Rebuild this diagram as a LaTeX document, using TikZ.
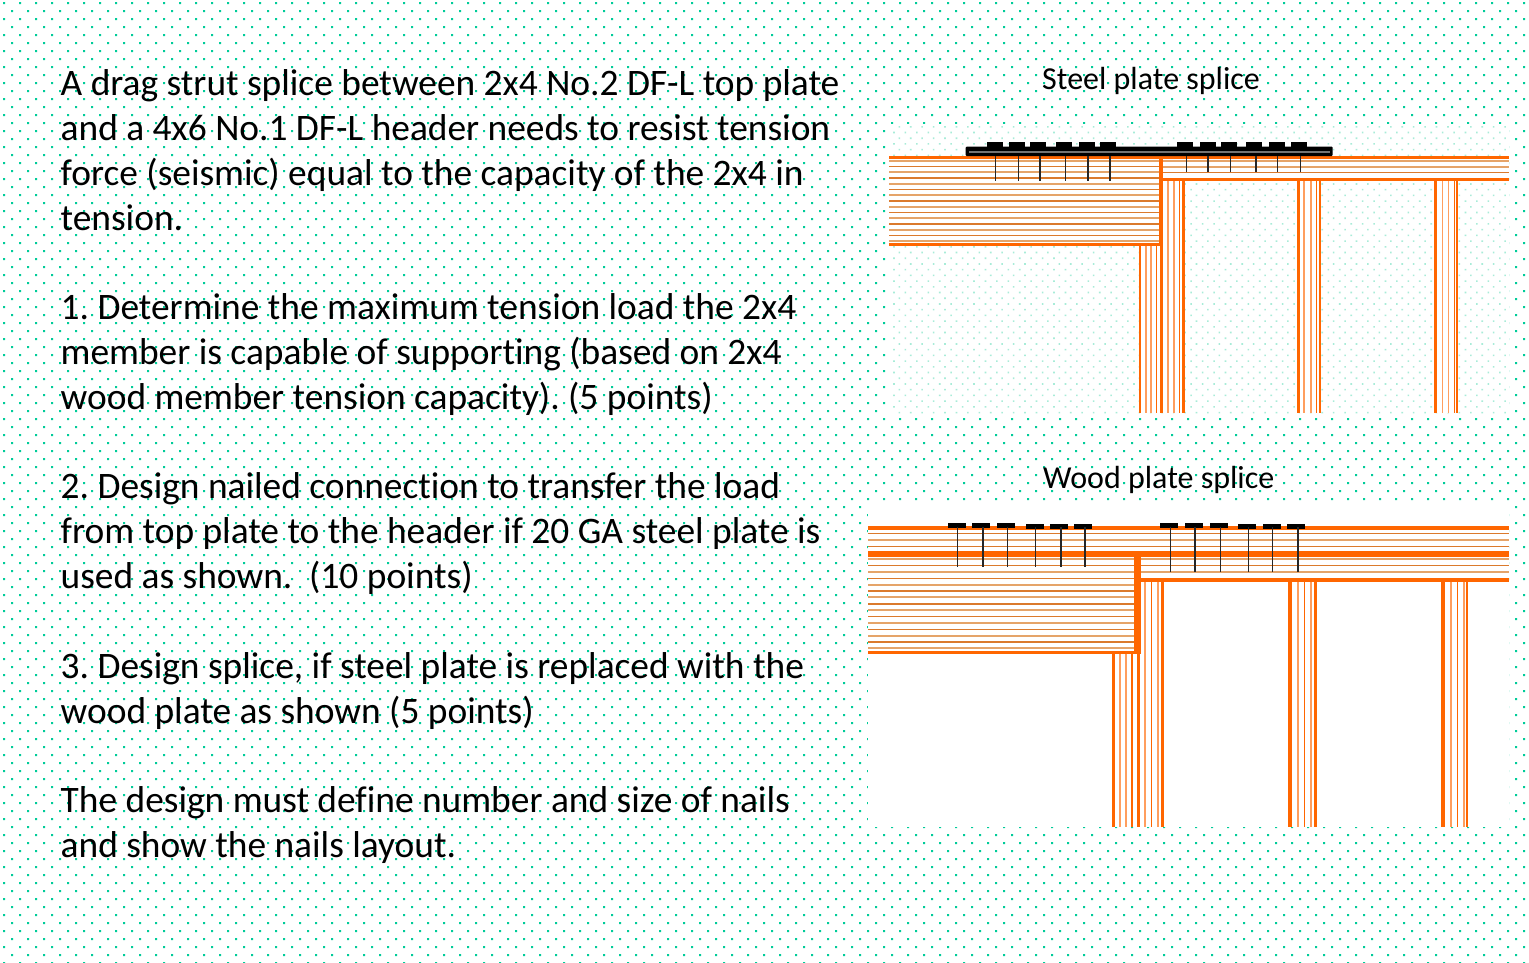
\documentclass[tikz,border=0pt]{standalone}
\usepackage{fontspec}
\setmainfont{Carlito}[Ligatures=NoCommon]
\frenchspacing
\definecolor{dotgreen}{HTML}{00CC99}
\definecolor{dotfaint}{HTML}{A8ECD8}
\definecolor{woodorange}{HTML}{FF6600}
\definecolor{grainlight}{HTML}{E5A469}
\definecolor{graindark}{HTML}{DB7A2C}
\definecolor{studlight}{HTML}{FF9E5E}
\begin{document}
\begin{tikzpicture}[
  x=1pt, y=-1pt,
  txt/.style={anchor=north west, inner sep=0pt, align=left, font=\fontsize{37.4}{44.9}\selectfont, execute at begin node=\strut},
  ttl/.style={anchor=base west, inner sep=0pt, font=\fontsize{32}{38}\selectfont},
  bgdot/.style={fill=dotgreen},
  fadedot/.style={fill=dotfaint},
  grain/.style={draw=grainlight, line width=2pt},
  graind/.style={draw=graindark, line width=1.3pt},
  nailhead/.style={fill=black},
  shank/.style={draw=black!85, line width=1.3pt}
  ]
\useasboundingbox (0,0) rectangle (1529,962);
\fill[white] (0,0) rectangle (1529,962);

% background dots
\foreach \yy in {2,18,...,962}
  \fill[bgdot] foreach \xx in {3,19,...,1525} {(\xx,\yy) rectangle +(2,2)};
\foreach \yy in {10,26,...,962}
  \fill[bgdot] foreach \xx in {11,27,...,1525} {(\xx,\yy) rectangle +(2,2)};

% text
\node[txt] (para1) at (60.5,69.2) {A drag strut splice between 2x4 No.2 DF-L top plate\\and a 4x6 No.1 DF-L header needs to resist tension\\force (seismic) equal to the capacity of the 2x4 in\\tension.};
\node[txt] (para2) at (60.5,293.2) {1. Determine the maximum tension load the 2x4\\member is capable of supporting (based on 2x4\\wood member tension capacity). (5 points)};
\node[txt] (para3) at (60.5,472.2) {2. Design nailed connection to transfer the load\\from top plate to the header if 20 GA steel plate is\\used as shown.~~(10 points)};
\node[txt] (para4) at (60.5,652.2) {3. Design splice, if steel plate is replaced with the\\wood plate as shown (5 points)};
\node[txt] (para5) at (60.5,786.2) {The design must define number and size of nails\\and show the nails layout.};

% steel plate splice
\fill[white] (889,124) rectangle (1509,413);
\foreach \yy in {126,137.43,...,413}
  \fill[fadedot] foreach \xx in {898.5,909.93,...,1508} {(\xx,\yy) rectangle +(1.6,1.6)};
\foreach \yy in {131.7,143.13,...,413}
  \fill[fadedot] foreach \xx in {893.2,904.63,...,1508} {(\xx,\yy) rectangle +(1.6,1.6)};
\node[ttl] (title1) at (1042,89) {Steel plate splice};

\fill[white] (889,156) rectangle (1159,246);
\fill[white] (1159,156) rectangle (1509,181);
\foreach \xa/\xb in {1139/1185,1297/1321,1434/1458}
  \fill[white] (\xa,181) rectangle (\xb,413);

% header and plate grain
\foreach \yy in {166.7,178,189.3,201,212.7,224,235.3}
  \draw[graind] (889,\yy) -- (1159,\yy);
\foreach \yy in {160.5,172.3,183.7,195.3,206.7,218.3,229.7,241.3}
  \draw[grain] (889,\yy) -- (1159,\yy);
\draw[grain] (1159,160.5) -- (1509,160.5);
\draw[grain] (1159,166.7) -- (1509,166.7);
\draw[graind] (1159,172.3) -- (1509,172.3);

% studs
\foreach \xa/\w/\c in {1140.2/2.4/woodorange,1146/1.6/studlight,1151/2/studlight,1156.6/1.2/woodorange}
  \draw[draw=\c, line width=\w pt] (\xa,246) -- (\xa,413);
\foreach \xa/\w/\c in {1161.5/3/woodorange,1168/2/studlight,1174/2/studlight,1179.5/1.3/woodorange,1183.5/2.4/woodorange,1298.4/3.3/woodorange,1304.3/2/studlight,1311/2/studlight,1316.6/1.3/woodorange,1319.8/2.4/woodorange,1435.2/3/woodorange,1442.5/1.7/studlight,1448.5/1.7/studlight,1454.6/1.3/woodorange,1457/2/woodorange}
  \draw[draw=\c, line width=\w pt] (\xa,180) -- (\xa,413);

\fill[woodorange] (889,156) rectangle (1509,159.3);
\fill[woodorange] (889,243.2) rectangle (1162.7,246.2);
\fill[woodorange] (1158.7,156) rectangle (1162.7,246);
\fill[woodorange] (1159,178) rectangle (1509,181);

% steel plate and nails
\fill[black, rounded corners=1pt] (965.7,146.7) rectangle (1332.7,156);
\fill[black!55] (968.5,150.8) rectangle (1330,152.6);
\foreach \xa in {987.3,1009,1030.3,1055.7,1078.7,1100,1176.7,1199.7,1221.3,1246.3,1269,1291}
  \fill[nailhead] (\xa,142.3) rectangle +(16,4.6);
\foreach \xa in {995.7,1018.3,1040,1065.3,1088,1110}
  \draw[shank] (\xa,156) -- (\xa,181);
\foreach \xa in {1186.3,1208,1230.7,1256,1277.7,1300.3}
  \draw[shank] (\xa,156) -- (\xa,171.7);

% wood plate splice
\fill[white] (868,503) rectangle (1509,827);
\node[ttl] (title2) at (1043,488) {Wood plate splice};

\foreach \yy in {533.7,546.3,565.3,578.3,591,604,616.7,629.3,642}
  \draw[graind] (868,\yy) -- (1134,\yy);
\foreach \yy in {540,558.7,572,584.7,597.3,610.3,623,635.7,648.3}
  \draw[grain] (868,\yy) -- (1134,\yy);
\foreach \yy in {533.7,546.3,565.3}
  \draw[graind] (1134,\yy) -- (1509,\yy);
\foreach \yy in {540,558.7,572}
  \draw[grain] (1134,\yy) -- (1509,\yy);

\foreach \xa/\w/\c in {1113.8/3/woodorange,1119.9/1.7/studlight,1126/2/studlight,1132.2/1.6/woodorange}
  \draw[draw=\c, line width=\w pt] (\xa,654) -- (\xa,827);
\foreach \xa/\w/\c in {1138.2/3/woodorange,1145/2/studlight,1151.4/1.4/woodorange,1157.8/1.8/studlight,1162.4/2.7/woodorange,1290.3/4/woodorange,1298/2/studlight,1304.4/1.4/woodorange,1310.8/1.7/studlight,1315.3/2.7/woodorange,1443.3/4/woodorange,1451/2/studlight,1457.4/1.4/woodorange,1464.1/1.7/studlight,1467/2.6/woodorange}
  \draw[draw=\c, line width=\w pt] (\xa,581) -- (\xa,827);

\fill[woodorange] (868,526.3) rectangle (1509,530);
\fill[woodorange] (868,551) rectangle (1509,557.3);
\fill[woodorange] (868,650.7) rectangle (1140.7,654.3);
\fill[woodorange] (1134,557) rectangle (1140.7,654);
\fill[woodorange] (1140,578) rectangle (1509,581.7);

\foreach \xa in {948.3,972.3,996.7,1159.7,1185.3,1209.7}
  \fill[nailhead] (\xa,522.7) rectangle +(18,5);
\foreach \xa in {1026,1050.3,1074.3,1237.7,1263,1287.3}
  \fill[nailhead] (\xa,524) rectangle +(18,5);
\foreach \xa in {957.7,983,1007.3,1035.3,1061,1085}
  \draw[shank] (\xa,527) -- (\xa,567.3);
\foreach \xa in {1170.7,1195,1220.3,1248.3,1272.7,1298}
  \draw[shank] (\xa,527) -- (\xa,572.3);
\end{tikzpicture}
\end{document}
